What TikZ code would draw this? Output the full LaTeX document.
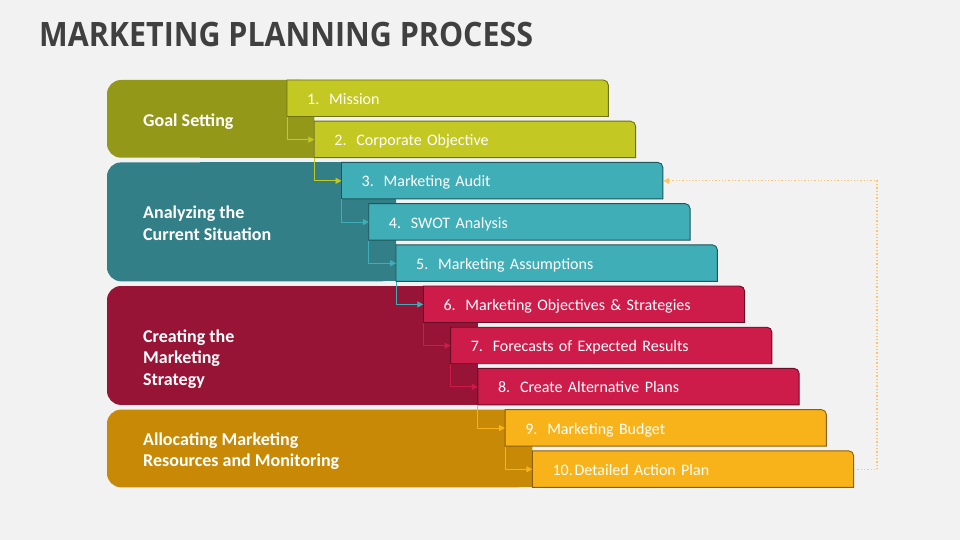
\documentclass[tikz,border=0pt]{standalone}
\usepackage{fontspec}
\setmainfont{Carlito}
\newfontfamily\titlefont[FakeStretch=0.905]{Open Sans}
\usetikzlibrary{arrows.meta}

\definecolor{pagebg}{HTML}{F2F2F2}
\definecolor{titlegray}{HTML}{404040}
\definecolor{goaldark}{HTML}{939819}
\definecolor{goallight}{HTML}{C3C823}
\definecolor{goalline}{HTML}{6E710F}
\definecolor{analdark}{HTML}{337F87}
\definecolor{anallight}{HTML}{40AEB7}
\definecolor{analline}{HTML}{1F555B}
\definecolor{stratdark}{HTML}{981437}
\definecolor{stratlight}{HTML}{CD1B4A}
\definecolor{stratline}{HTML}{6A0D26}
\definecolor{allocdark}{HTML}{C88A06}
\definecolor{alloclight}{HTML}{F8B31A}
\definecolor{allocline}{HTML}{8C6006}
\definecolor{loopline}{HTML}{F9C76A}

\begin{document}
\begin{tikzpicture}[x=1pt,y=-1pt,
   stepbox/.style={anchor=north west,minimum height=36.5pt,text width=281.3pt,
      inner xsep=20pt,inner ysep=0pt,text height=13.6pt,text depth=1.6pt,
      align=left,text=white,font=\fontsize{16}{19}\selectfont},
   grouplabel/.style={anchor=west,align=left,text=white,inner sep=0pt,
      font=\fontsize{18}{21.5}\selectfont\bfseries},
   flow/.style={line width=0.9pt,-{Triangle[length=6pt,width=6pt]}},
   loopback/.style={loopline,line width=1.3pt,dotted,-{Triangle[length=6pt,width=6pt]}}]
\fill[pagebg] (0,0) rectangle (960,540);
\node[anchor=base west,inner sep=0pt,text=titlegray,
   font=\titlefont\bfseries\fontsize{33.6}{40}\selectfont] (title) at (39,46.7) {MARKETING PLANNING PROCESS};
% group backgrounds, left corners rounded
\foreach \first/\last/\col in {1/2/goaldark,3/5/analdark,6/8/stratdark,9/10/allocdark}{
  \fill[\col,rounded corners=14pt] (107,{80+41.2*(\first-1)}) rectangle ({287+27.26*(\last-1)},{116.5+41.2*(\last-1)});
  \fill[\col] (200,{80+41.2*(\first-1)}) rectangle ({287+27.26*(\last-1)},{116.5+41.2*(\last-1)});
}
\node[grouplabel] (g1) at (143,121.5) {Goal Setting};
\node[grouplabel] (g2) at (143,223.5) {Analyzing the\\Current Situation};
\node[grouplabel] (g3) at (143,359) {Creating the\\Marketing\\Strategy};
\node[grouplabel] (g4) at (143,451) {Allocating Marketing\\Resources and Monitoring};
% the ten steps
\foreach \i/\txt/\fc/\dc in {1/Mission/goallight/goalline,
   2/Corporate Objective/goallight/goalline,
   3/Marketing Audit/anallight/analline,
   4/SWOT Analysis/anallight/analline,
   5/Marketing Assumptions/anallight/analline,
   6/Marketing Objectives \& Strategies/stratlight/stratline,
   7/Forecasts of Expected Results/stratlight/stratline,
   8/Create Alternative Plans/stratlight/stratline,
   9/Marketing Budget/alloclight/allocline,
   10/Detailed Action Plan/alloclight/allocline}{
  \coordinate (c\i) at ({287+27.26*(\i-1)},{80+41.2*(\i-1)});
  \filldraw[fill=\fc,draw=\dc,line width=0.9pt] (c\i) ++(0,36.5) -- (c\i) -- ++(316.3,0)
     arc[start angle=270,end angle=360,radius=5] -- ++(0,31.5) -- cycle;
  \node[stepbox] (s\i) at (c\i) {\makebox[22pt][l]{\i.}\txt};
}
% connectors
\foreach \i/\j/\col in {1/2/goallight,2/3/goallight,3/4/anallight,4/5/anallight,5/6/anallight,
   6/7/stratlight,7/8/stratlight,8/9/alloclight,9/10/alloclight}
  \draw[flow,\col] (s\i.south west) |- (s\j.west);
\draw[loopback] (s10.east) -- ++(23,0) |- (s3.east);
\end{tikzpicture}
\end{document}
